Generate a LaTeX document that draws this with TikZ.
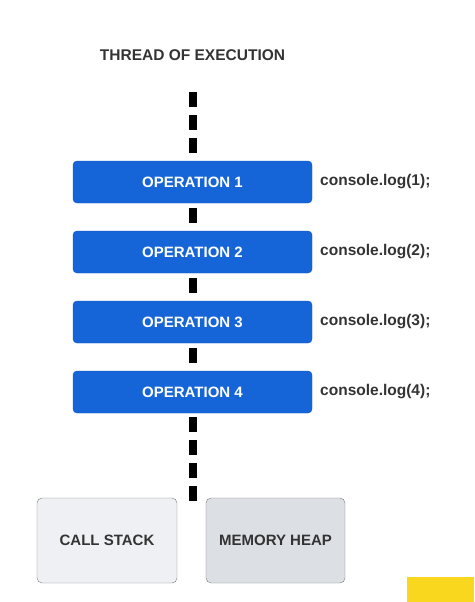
\documentclass[tikz,border=0pt]{standalone}
\usepackage{fontspec}
\setmainfont{Liberation Sans}
\usepackage{tikz}
\usetikzlibrary{positioning}
\definecolor{opblue}{HTML}{1565D8}
\definecolor{opedge}{HTML}{0F52B8}
\definecolor{inktext}{HTML}{333333}
\definecolor{stackbg}{HTML}{EEF0F4}
\definecolor{heapbg}{HTML}{DCDFE4}
\definecolor{boxedge}{HTML}{7A7A7A}
\definecolor{marker}{HTML}{F8D71E}
\tikzset{
  opbox/.style={draw=opedge, fill=opblue, rounded corners=4pt, minimum width=239pt, minimum height=42pt, text=white, font=\bfseries\fontsize{15}{18}\selectfont},
  codetext/.style={anchor=west, text=inktext, font=\bfseries\fontsize{15.5}{18}\selectfont, inner sep=0pt},
  membox/.style={draw=boxedge, rounded corners=5pt, minimum width=140pt, minimum height=85pt, text=inktext, font=\bfseries\fontsize{15}{18}\selectfont},
  thread/.style={line width=8pt, dash pattern=on 15pt off 8pt}
}

\begin{document}
\begin{tikzpicture}[x=1pt, y=-1pt]
  \useasboundingbox (0,0) rectangle (474,602);

  \node[text=inktext, font=\bfseries\fontsize{15.5}{18}\selectfont] (title) at (192.5,55) {THREAD OF EXECUTION};

  \node[opbox] (op1) at (192.5,182) {OPERATION 1};
  \node[opbox] (op2) at (192.5,252) {OPERATION 2};
  \node[opbox] (op3) at (192.5,322) {OPERATION 3};
  \node[opbox] (op4) at (192.5,392) {OPERATION 4};

  \node[codetext] (log1) at (320,182) {console.log(1);};
  \node[codetext] (log2) at (320,252) {console.log(2);};
  \node[codetext] (log3) at (320,322) {console.log(3);};
  \node[codetext] (log4) at (320,392) {console.log(4);};

  \coordinate (threadtop) at (192.5,92);
  \coordinate (threadend) at (192.5,503);

  \draw[thread] (threadtop) -- (op1.north);
  \draw[thread, shorten <=5pt, shorten >=8pt] (op1.south) -- (op2.north);
  \draw[thread, shorten <=5pt, shorten >=8pt] (op2.south) -- (op3.north);
  \draw[thread, shorten <=5pt, shorten >=8pt] (op3.south) -- (op4.north);
  \draw[thread, shorten <=4pt] (op4.south) -- (threadend);

  \node[membox, fill=stackbg] (stack) at (107,540.5) {CALL STACK};
  \node[membox, fill=heapbg, minimum width=139pt] (heap) at (275.5,540.5) {MEMORY HEAP};

  \fill[marker] (407,577) rectangle (474,602);
\end{tikzpicture}
\end{document}
